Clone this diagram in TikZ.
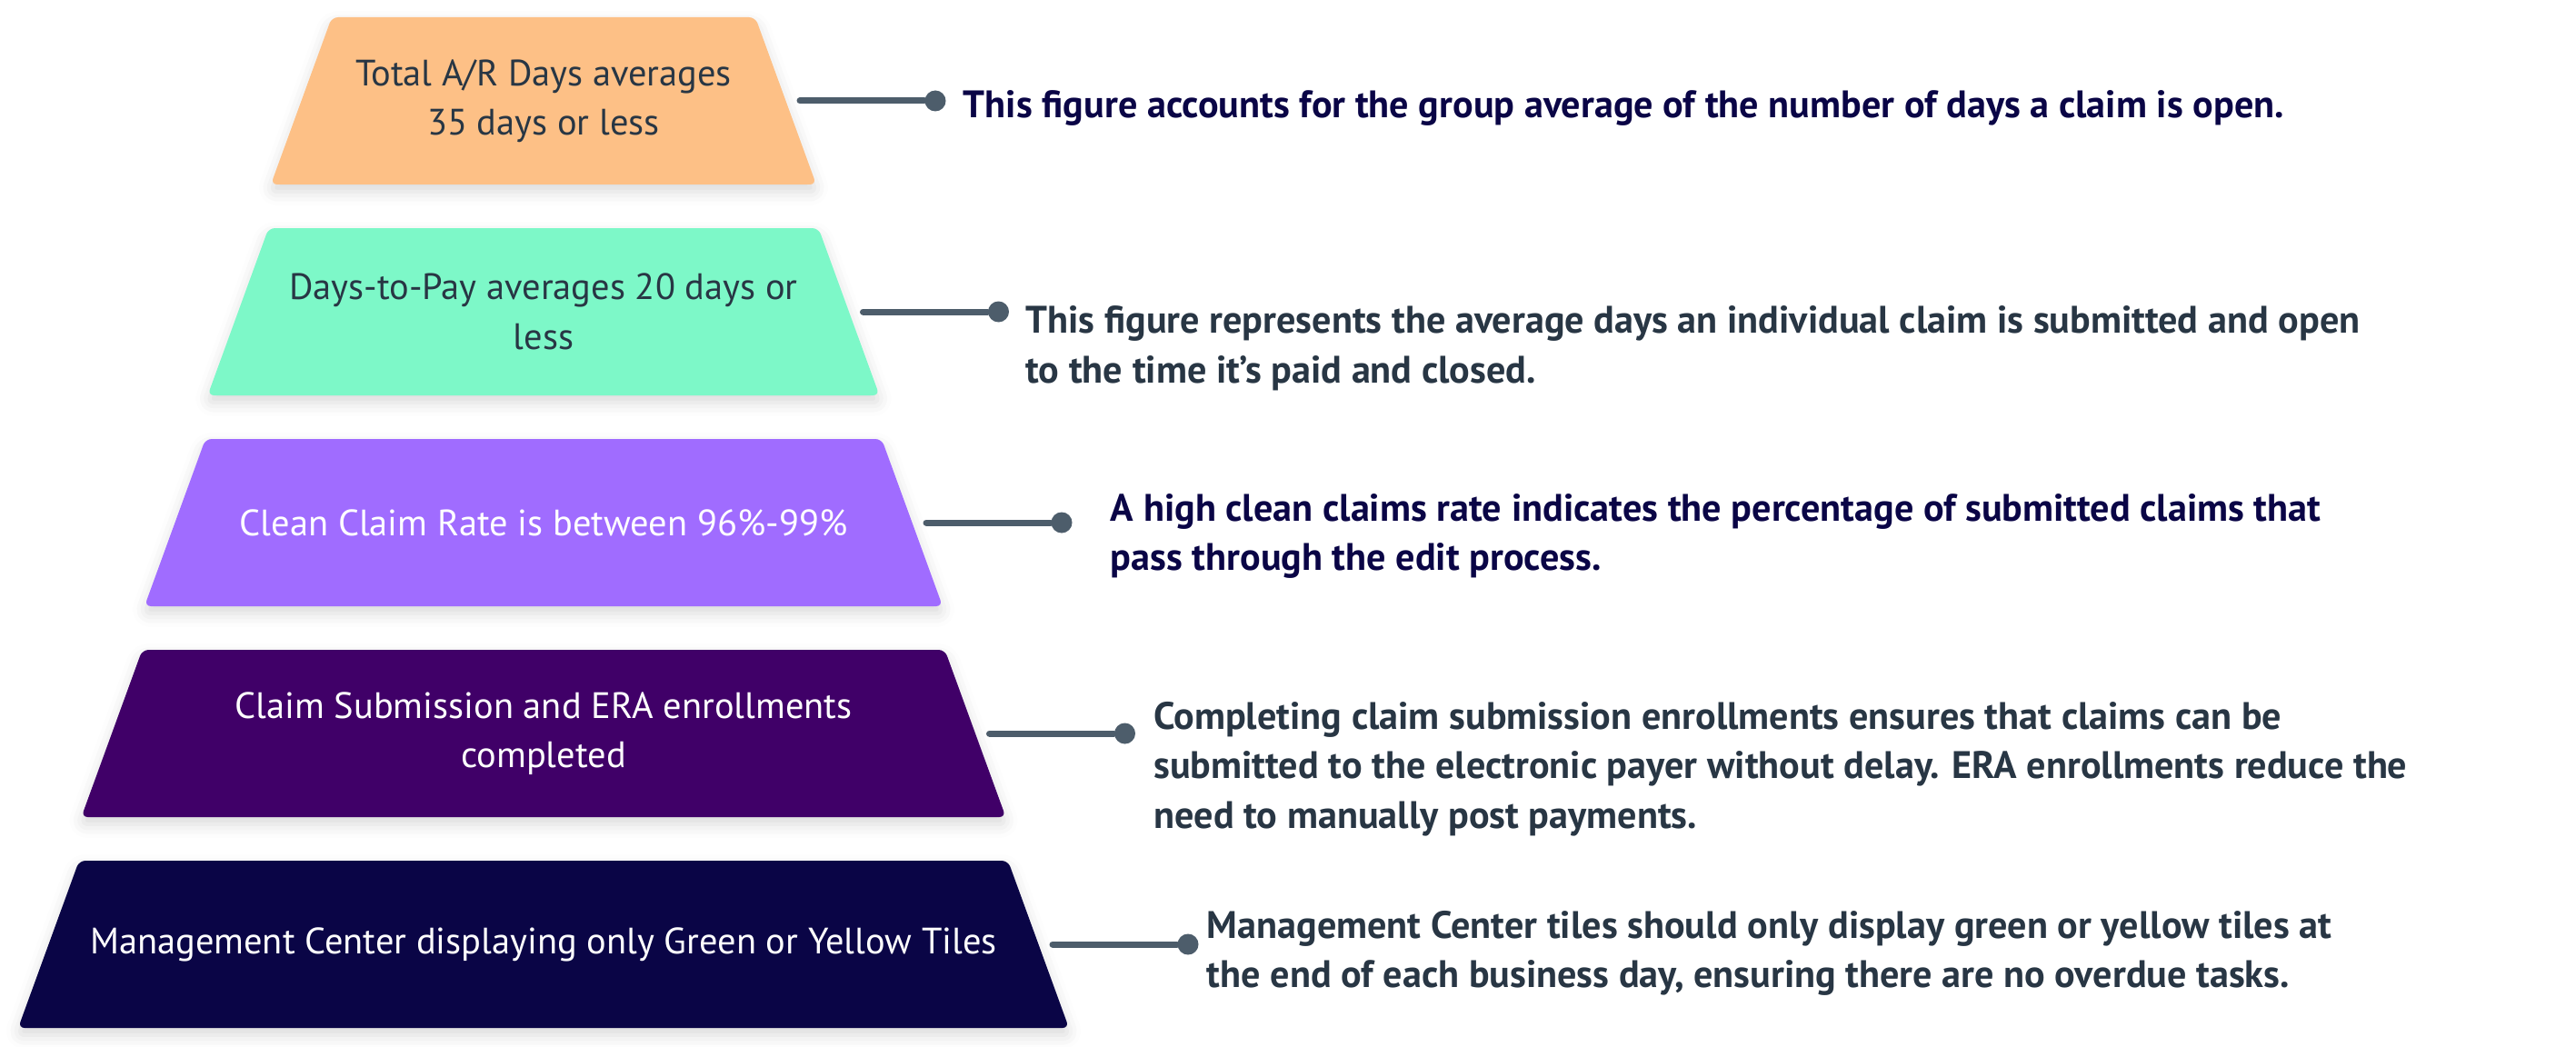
\documentclass[tikz,border=0pt]{standalone}
\usepackage{fontspec}
\setmainfont{PT Sans}
\usetikzlibrary{positioning,shadows.blur}
\definecolor{lvlorange}{RGB}{253,192,134}
\definecolor{lvlmint}{RGB}{125,248,200}
\definecolor{lvlpurple}{RGB}{160,108,255}
\definecolor{lvlplum}{RGB}{64,0,104}
\definecolor{lvlnavy}{RGB}{10,5,70}
\definecolor{txtslate}{RGB}{40,54,68}
\definecolor{linkgray}{RGB}{77,93,107}

\begin{document}
\begin{tikzpicture}[every node/.style={font=\fontsize{11.5}{15.5}\selectfont},
    level/.style={rounded corners=2pt,
      blur shadow={shadow xshift=0pt,shadow yshift=-0.08cm,shadow blur radius=0.15cm,shadow opacity=15}},
    label/.style={align=center,inner sep=0pt},
    dot/.style={circle,fill=linkgray,minimum size=0.23cm,inner sep=0pt},
    link/.style={draw=linkgray,line width=0.07cm,line cap=round,shorten <=0.155cm},
    note/.style={font=\bfseries\fontsize{12}{15.5}\selectfont,align=left,inner sep=0pt}]
  \useasboundingbox (0,0) rectangle (28.34,-11.52);
  \foreach \i/\w/\c/\tc/\t in {1/6.00/lvlorange/txtslate/{Total A/R Days averages\\35 days or less},
                              2/7.39/lvlmint/txtslate/{Days-to-Pay averages 20 days or\\less},
                              3/8.78/lvlpurple/white/{Clean Claim Rate is between 96\%-99\%},
                              4/10.17/lvlplum/white/{Claim Submission and ERA enrollments\\completed},
                              5/11.56/lvlnavy/white/{Management Center displaying only Green or Yellow Tiles}}{
    \pgfmathsetmacro{\b}{\w/2}
    \pgfmathsetmacro{\cy}{-1.11-(\i-1)*2.32}
    \fill[level,\c] ({5.98-\b},\cy-0.92) -- ({5.98+\b},\cy-0.92)
      -- ({5.98+\b-0.67},\cy+0.92) -- ({5.98-\b+0.67},\cy+0.92) -- cycle;
    \node[label,text=\tc] (t\i) at (5.98,\cy) {\t};
    \coordinate (e\i) at ({5.98+\b-0.335},\cy);
    \node[dot] (p\i) at ({5.98+\b+1.31},\cy) {};
    \draw[link] (e\i) -- (p\i);
  }
  % notes beside the dots
  \foreach \i/\g/\dy/\nc/\n in {1/0.18/-0.08/lvlnavy/{This figure accounts for the group average of the number of days a claim is open.},
                               2/0.17/-0.40/txtslate/{This figure represents the average days an individual claim is submitted and open\\to the time it’s paid and closed.},
                               3/0.41/-0.15/lvlnavy/{A high clean claims rate indicates the percentage of submitted claims that\\pass through the edit process.},
                               4/0.19/-0.39/txtslate/{Completing claim submission enrollments ensures that claims can be\\submitted to the electronic payer without delay. ERA enrollments reduce the\\need to manually post payments.},
                               5/0.08/-0.10/txtslate/{Management Center tiles should only display green or yellow tiles at\\the end of each business day, ensuring there are no overdue tasks.}}{
    \node[note,text=\nc,right=\g cm of p\i,yshift=\dy cm] (d\i) {\n};
  }
\end{tikzpicture}
\end{document}
